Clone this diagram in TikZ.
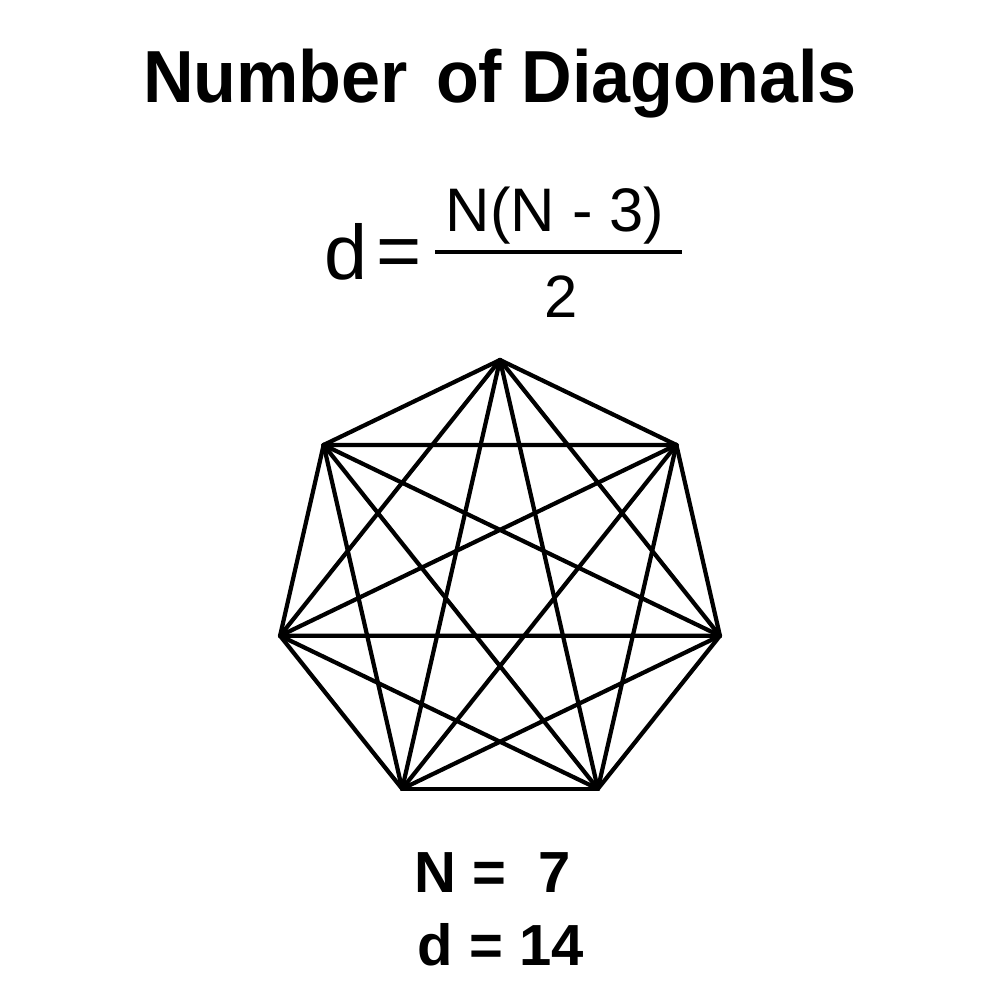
\documentclass[tikz,border=0pt]{standalone}
\usepackage{fontspec}
\setmainfont{Liberation Sans}
\begin{document}
\begin{tikzpicture}
\useasboundingbox (0,0) rectangle (10,-10);
% title
\node [anchor=base, inner sep=0, font=\bfseries\fontsize{21}{25}\selectfont] (title) at (5,-1.03) {\scalebox{0.95}[1]{Number\hspace{0.4em}of Diagonals}};

% formula
\node [anchor=base west, inner sep=0, font=\fontsize{22}{26}\selectfont] (dsym) at (3.24,-2.80) {d};
\node [anchor=base, inner sep=0, font=\fontsize{22}{26}\selectfont] (eq) at (3.99,-2.78) {=};
\node [anchor=base, inner sep=0, font=\fontsize{17.5}{20}\selectfont] (num) at (5.55,-2.32) {N(N - 3)};
\node [anchor=base, inner sep=0, font=\fontsize{17}{20}\selectfont] (den) at (5.61,-3.18) {2};
\draw [line width=1.2pt] (4.35,-2.52) -- (6.82,-2.52);

% heptagon: sides and diagonals
\foreach \i in {0,...,6}
  \coordinate (v\i) at ({5+2.256*cos(90+\i*360/7)}, {-5.856+2.256*sin(90+\i*360/7)});
\foreach \i in {0,...,5} {
  \pgfmathtruncatemacro\k{\i+1}
  \foreach \j in {\k,...,6}
    \draw [line width=1.2pt, line cap=round] (v\i) -- (v\j);
}

% values
\node [anchor=base west, inner sep=0, font=\bfseries\fontsize{16.5}{20}\selectfont] (nval) at (4.14,-8.92) {N =\ \ 7};
\node [anchor=base west, inner sep=0, font=\bfseries\fontsize{16.5}{20}\selectfont] (dval) at (4.17,-9.65) {d = 14};
\end{tikzpicture}
\end{document}
